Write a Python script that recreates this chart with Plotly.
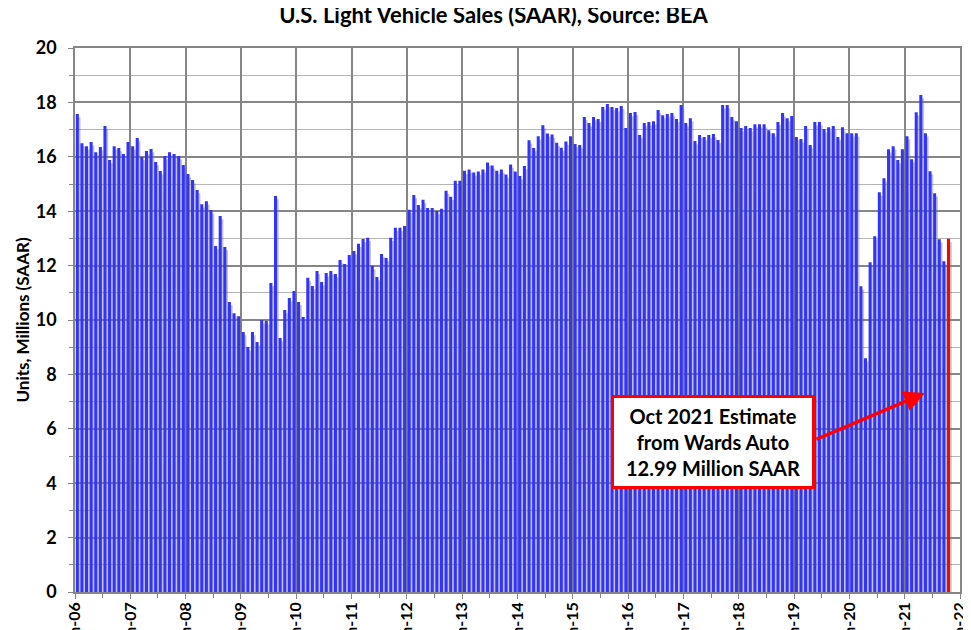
import plotly.graph_objects as go

years = list(range(2006, 2023))
tick_labels = [f"Jan-{str(y)[2:]}" for y in years]

sales_2006 = [17.57, 16.50, 16.39, 16.54, 16.17, 16.36, 17.13, 15.88, 16.39, 16.32, 16.10, 16.54]
sales_2007 = [16.39, 16.69, 15.99, 16.21, 16.29, 15.81, 15.48, 16.03, 16.17, 16.10, 16.03, 15.70]
sales_2008 = [15.37, 15.15, 14.78, 14.26, 14.37, 14.04, 12.72, 13.82, 12.68, 10.66, 10.25, 10.14]
sales_2009 = [9.56, 9.01, 9.56, 9.19, 10.00, 9.96, 11.36, 14.56, 9.34, 10.37, 10.81, 11.07]
sales_2010 = [10.66, 10.11, 11.55, 11.25, 11.80, 11.40, 11.73, 11.80, 11.69, 12.21, 12.06, 12.39]
sales_2011 = [12.54, 12.80, 12.98, 13.02, 11.99, 11.58, 12.43, 12.28, 13.02, 13.39, 13.39, 13.46]
sales_2012 = [14.05, 14.60, 14.23, 14.42, 14.12, 14.12, 14.01, 14.09, 14.75, 14.53, 15.12, 15.12]
sales_2013 = [15.49, 15.53, 15.42, 15.46, 15.53, 15.79, 15.68, 15.49, 15.53, 15.35, 15.72, 15.46]
sales_2014 = [15.29, 15.66, 16.61, 16.32, 16.76, 17.16, 16.86, 16.82, 16.52, 16.33, 16.56, 16.76]
sales_2015 = [16.47, 16.43, 17.46, 17.24, 17.46, 17.39, 17.83, 17.94, 17.83, 17.79, 17.87, 17.06]
sales_2016 = [17.61, 17.65, 16.80, 17.24, 17.28, 17.31, 17.72, 17.53, 17.57, 17.61, 17.39, 17.90]
sales_2017 = [17.24, 17.42, 16.58, 16.80, 16.73, 16.80, 16.84, 16.62, 17.90, 17.90, 17.46, 17.31]
sales_2018 = [17.06, 17.13, 17.06, 17.20, 17.20, 17.20, 16.98, 16.87, 17.28, 17.61, 17.42, 17.50]
sales_2019 = [16.73, 16.65, 17.13, 16.43, 17.28, 17.28, 17.02, 17.09, 17.13, 16.73, 17.09, 16.87]
sales_2020 = [16.87, 16.87, 11.24, 8.59, 12.12, 13.08, 14.70, 15.21, 16.28, 16.39, 15.88, 16.28]
sales_2021 = [16.76, 15.91, 17.64, 18.27, 16.87, 15.47, 14.66, 12.97, 12.16, 12.99]

sales = (sales_2006 + sales_2007 + sales_2008 + sales_2009 + sales_2010 + sales_2011
         + sales_2012 + sales_2013 + sales_2014 + sales_2015 + sales_2016 + sales_2017
         + sales_2018 + sales_2019 + sales_2020 + sales_2021)

n = len(sales)
month_idx = [i + 0.5 for i in range(n)]
colors = ["#3333FF"] * (n - 1) + ["#FF0000"]

FONT = "Lato"

fig = go.Figure()
# soft drop shadow (same data, offset)
fig.add_trace(go.Bar(
    x=[m + 0.35 for m in month_idx], y=[v - 0.12 for v in sales],
    width=0.7, marker=dict(color="rgba(120,120,120,0.45)", line=dict(width=0)),
    hoverinfo="skip", showlegend=False,
))
fig.add_trace(go.Bar(
    x=month_idx, y=sales, width=0.66,
    marker=dict(color=colors, line=dict(width=0)),
    showlegend=False, name="SAAR",
))

fig.update_layout(
    width=971, height=630,
    barmode="overlay",
    plot_bgcolor="white", paper_bgcolor="white",
    margin=dict(l=67, r=19, t=40, b=46, autoexpand=False),
    title=dict(text="<b>U.S. Light Vehicle Sales (SAAR), Source: BEA</b>",
               x=0.5, xref="container", y=0.989, yref="container",
               xanchor="center", yanchor="middle",
               font=dict(family=FONT, size=22, color="black")),
    font=dict(family=FONT, color="black"),
)

fig.update_xaxes(
    range=[0, 192],
    tickmode="array",
    tickvals=[12 * k for k in range(len(years))],
    ticktext=tick_labels,
    tickangle=-90,
    tickfont=dict(family=FONT, size=16, color="black", weight="bold"),
    ticks="outside", ticklen=5, tickcolor="#868686", tickwidth=1,
    ticklabelstandoff=-3,
    showgrid=True, gridcolor="#868686", gridwidth=1.5,
    showline=True, linecolor="#868686", linewidth=1.5, mirror=True,
    zeroline=False,
    minor=dict(tickvals=[12 * k + 6 for k in range(len(years) - 1)],
               ticks="outside", ticklen=4, tickcolor="#868686", showgrid=False),
    automargin=False,
)

fig.update_yaxes(
    range=[0, 20], dtick=2, tick0=0,
    tickfont=dict(family=FONT, size=18, color="black", weight="bold"),
    ticks="outside", ticklen=5, tickcolor="#868686",
    ticklabelstandoff=8,
    showgrid=True, gridcolor="#868686", gridwidth=1.5,
    minor=dict(dtick=1, showgrid=True, gridcolor="#b5b5b5", gridwidth=1.2,
               ticks="outside", ticklen=4, tickcolor="#868686"),
    showline=True, linecolor="#868686", linewidth=1.5, mirror=True,
    zeroline=False,
    title=dict(text="<b>Units, Millions (SAAR)</b>", standoff=2,
               font=dict(family=FONT, size=17, color="black")),
    automargin=False,
)

# annotation box
fig.add_annotation(
    x=138.5, y=5.53, xref="x", yref="y",
    text="<b>Oct 2021 Estimate<br>from Wards Auto<br>12.99 Million SAAR</b>",
    showarrow=False,
    font=dict(family=FONT, size=20, color="black"),
    bgcolor="white", bordercolor="#FF0000", borderwidth=3, borderpad=5,
    width=188, height=78, align="center",
)
# arrow
fig.add_annotation(
    x=184.4, y=7.32, xref="x", yref="y",
    ax=-110, ay=47, axref="pixel", ayref="pixel",
    text="", showarrow=True,
    arrowhead=2, arrowsize=1.2, arrowwidth=3.5, arrowcolor="#FF0000",
)

fig.write_html("out.html")
